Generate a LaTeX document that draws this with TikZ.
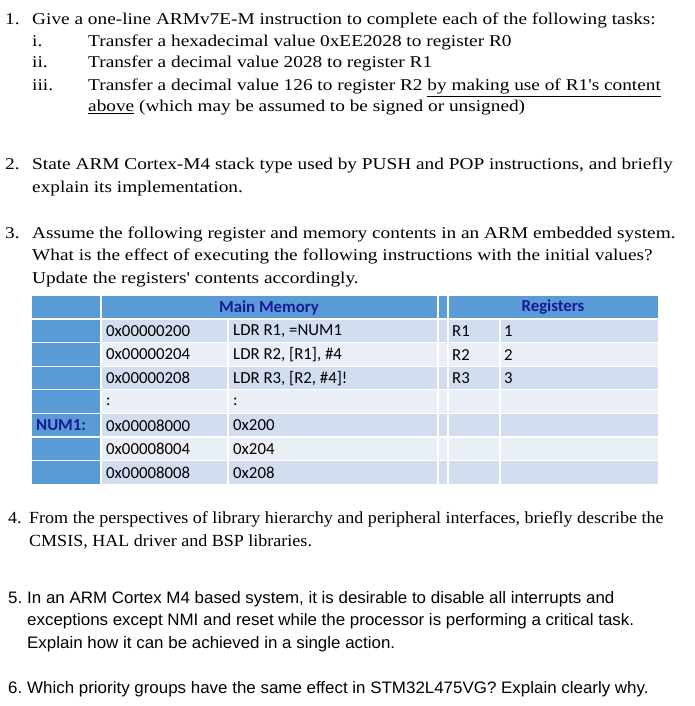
\documentclass[tikz,border=0pt]{standalone}
\usepackage{fontspec}
\setmainfont{Liberation Serif}
\newfontfamily\camf[FakeStretch=1.17]{Liberation Serif}
\newfontfamily\timf[FakeStretch=1.06]{Liberation Serif}
\newfontfamily\arialf[FakeStretch=1.02]{Liberation Sans}
\newfontfamily\calf{Carlito}
\definecolor{hdr}{HTML}{5B9BD5}
\definecolor{rowa}{HTML}{D2DEEF}
\definecolor{rowb}{HTML}{EAEFF7}
\definecolor{hdrtxt}{HTML}{1A1A99}
\begin{document}
\begin{tikzpicture}[x=1pt,y=-1pt,
  q/.style={anchor=base west,inner sep=0,font=\camf\fontsize{16.5}{18}\selectfont},
  qt/.style={anchor=base west,inner sep=0,font=\timf\fontsize{17}{19}\selectfont},
  qa/.style={anchor=base west,inner sep=0,font=\arialf\fontsize{16.6}{19}\selectfont},
  cell/.style={anchor=west,inner sep=0,font=\calf\fontsize{16.8}{18}\selectfont},
  hcell/.style={inner sep=0,font=\calf\bfseries\fontsize{16.8}{18}\selectfont,text=hdrtxt}]
\useasboundingbox (0,0) rectangle (695,706);
\fill[white] (0,0) rectangle (695,706);
% Q1
\node[q] (n1) at (5,25) {1.};
\node[q] (t1) at (32,25) {Give a one-line ARMv7E-M instruction to complete each of the following tasks:};
\node[q] (r1) at (32,47) {i.};
\node[q] (s1) at (88,47) {Transfer a hexadecimal value 0xEE2028 to register R0};
\node[q] (r2) at (32,68) {ii.};
\node[q] (s2) at (88,68) {Transfer a decimal value 2028 to register R1};
\node[q] (r3) at (32,91) {iii.};
\node[q] (s3) at (88,91) {Transfer a decimal value 126 to register R2 \underline{by making use of R1's content}};
\node[q] (s4) at (88,112) {\underline{above} (which may be assumed to be signed or unsigned)};
% Q2
\node[q] (n2) at (5,169) {2.};
\node[q] (t2) at (32,169) {State ARM Cortex-M4 stack type used by PUSH and POP instructions, and briefly};
\node[q] (t2b) at (32,192) {explain its implementation.};
% Q3
\node[q] (n3) at (5,238) {3.};
\node[q] (t3) at (32,238) {Assume the following register and memory contents in an ARM embedded system.};
\node[q] (t3b) at (32,260) {What is the effect of executing the following instructions with the initial values?};
\node[q] (t3c) at (32,283) {Update the registers' contents accordingly.};
% table
\fill[hdr] (32,296) rectangle (658,319);
\fill[hdr] (32,319) rectangle (101,484);
\foreach \i/\c in {0/rowa,1/rowb,2/rowa,3/rowb,4/rowa,5/rowb,6/rowa}{
  \fill[\c] (101,{319+\i*23.6}) rectangle (658,{319+(\i+1)*23.6});
  \draw[white,line width=1.2] (32,{319+\i*23.6}) -- (658,{319+\i*23.6});
}
\foreach \x in {101,438,448}{\draw[white,line width=1.2] (\x,296) -- (\x,484);}
\foreach \x in {228,500}{\draw[white,line width=1.2] (\x,319) -- (\x,484);}
\node[hcell] (hm) at (269,307.5) {Main Memory};
\node[hcell] (hr) at (553,307.5) {Registers};
\foreach \i/\a/\b in {0/0x00000200/{LDR R1, =NUM1},1/0x00000204/{LDR R2, [R1], \#4},2/0x00000208/{LDR R3, [R2, \#4]!},3/:/:,4/0x00008000/0x200,5/0x00008004/0x204,6/0x00008008/0x208}{
  \node[cell] (a\i) at (106,{331+\i*23.6}) {\a};
  \node[cell] (b\i) at (233,{331+\i*23.6}) {\b};
}
\foreach \i/\a/\b in {0/R1/1,1/R2/2,2/R3/3}{
  \node[cell] (ra\i) at (452,{331+\i*23.6}) {\a};
  \node[cell] (rb\i) at (504,{331+\i*23.6}) {\b};
}
\node[hcell,anchor=west] (num) at (36,425.4) {NUM1:};
% Q4
\node[qt] (n4) at (8,523) {4.};
\node[qt] (t4) at (29,523) {From the perspectives of library hierarchy and peripheral interfaces, briefly describe the};
\node[qt] (t4b) at (29,546) {CMSIS, HAL driver and BSP libraries.};
% Q5
\node[qa] (n5) at (8,603) {5.};
\node[qa] (t5) at (27,603) {In an ARM Cortex M4 based system, it is desirable to disable all interrupts and};
\node[qa] (t5b) at (27,625) {exceptions except NMI and reset while the processor is performing a critical task.};
\node[qa] (t5c) at (27,648) {Explain how it can be achieved in a single action.};
% Q6
\node[qa] (n6) at (8,693) {6.};
\node[qa] (t6) at (27,693) {Which priority groups have the same effect in STM32L475VG? Explain clearly why.};
\end{tikzpicture}
\end{document}
